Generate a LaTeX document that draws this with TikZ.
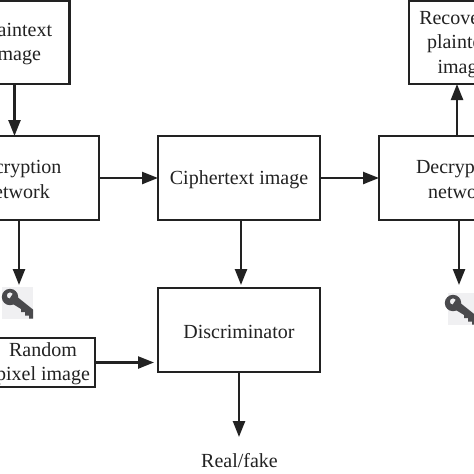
\documentclass[tikz,border=0pt]{standalone}
\usepackage{fontspec}
\setmainfont{Liberation Serif}
\usetikzlibrary{arrows.meta}

\definecolor{inkdark}{HTML}{222222}
\definecolor{keydark}{HTML}{4A4A4D}
\definecolor{keyback}{HTML}{F0F0F2}

\newcommand{\lift}{\rule{0pt}{16.5pt}}

\tikzset{
  blockbox/.style={draw=inkdark, line width=2.4pt, fill=white, outer sep=0pt, inner sep=0pt,
    align=center, text=inkdark, font=\fontsize{20}{24.5}\selectfont},
  keyback/.style={fill=keyback, minimum width=31pt, minimum height=32pt, inner sep=0pt, outer sep=0pt},
  plainlabel/.style={text=inkdark, font=\fontsize{20}{24}\selectfont},
  flow/.style={->, line width=2.4pt, draw=inkdark},
  keyicon/.pic={
    \fill[keydark, even odd rule] (0,0) circle (8.2)
      (0,-1.5) circle (3.2);
    \fill[keydark] (3,-3.5) -- (23,12.5) -- (23,21.5) -- (19,21.5) -- (19,18.5)
      -- (15,18.5) -- (15,15) -- (11,15) -- (11,12) -- (-2,4) -- cycle;
  }
}

\begin{document}
\begin{tikzpicture}[x=1pt, y=-1pt, >={Triangle[length=16pt, width=12pt]}]
  \useasboundingbox (0,0) rectangle (474,474);
  \clip (0,0) rectangle (474,474);
  \fill[white] (0,0) rectangle (474,474);

  % Left column
  \node[blockbox, minimum width=106pt, minimum height=83pt] (plaintext) at (16.5,42.5)
    {\lift Plaintext\\image};
  \node[blockbox, minimum width=164pt, minimum height=84pt] (encryption) at (17,178)
    {\lift Encryption\\network};
  \node[keyback] (keyleft) at (17.5,303) {};
  \pic at (10,297) {keyicon};
  \node[blockbox, minimum width=104pt, minimum height=49pt] (random) at (43,362.5)
    {\lift Random\\pixel image};

  % Middle column
  \node[blockbox, minimum width=162pt, minimum height=84pt] (ciphertext) at (239,178)
    {\lift Ciphertext image};
  \node[blockbox, minimum width=162pt, minimum height=84pt] (discriminator) at (239,330)
    {\lift Discriminator};
  \node[plainlabel] (realfake) at (239.5,461) {Real/fake};

  % Right column
  \node[blockbox, minimum width=106pt, minimum height=83pt] (recovered) at (462,42.5)
    {\lift Recovered\\plaintext\\image};
  \node[blockbox, minimum width=164pt, minimum height=84pt] (decryption) at (461,178)
    {\lift Decryption\\network};
  \node[keyback] (keyright) at (463,309) {};
  \pic at (453,303) {keyicon};

  % Arrows
  \draw[flow] ([xshift=-2pt]plaintext.south) -- ([xshift=-2pt]plaintext.south |- encryption.north);
  \draw[flow] (encryption.east) -- (ciphertext.west);
  \draw[flow] (ciphertext.east) -- (decryption.west);
  \draw[flow] ([xshift=-4pt]decryption.north) -- ([xshift=-4pt]decryption.north |- recovered.south);
  \draw[flow, shorten >=2pt] ([xshift=2pt]encryption.south) -- ([xshift=2pt]encryption.south |- keyleft.north);
  \draw[flow, shorten >=8pt] ([xshift=-2pt]decryption.south) -- ([xshift=-2pt]decryption.south |- keyright.north);
  \draw[flow, shorten >=3pt] ([xshift=2pt]ciphertext.south) -- ([xshift=2pt]ciphertext.south |- discriminator.north);
  \draw[flow, shorten >=4pt] (random.east) -- (random.east -| discriminator.west);
  \draw[flow] (discriminator.south) -- ++(0,65) coordinate (realtip);
\end{tikzpicture}
\end{document}
